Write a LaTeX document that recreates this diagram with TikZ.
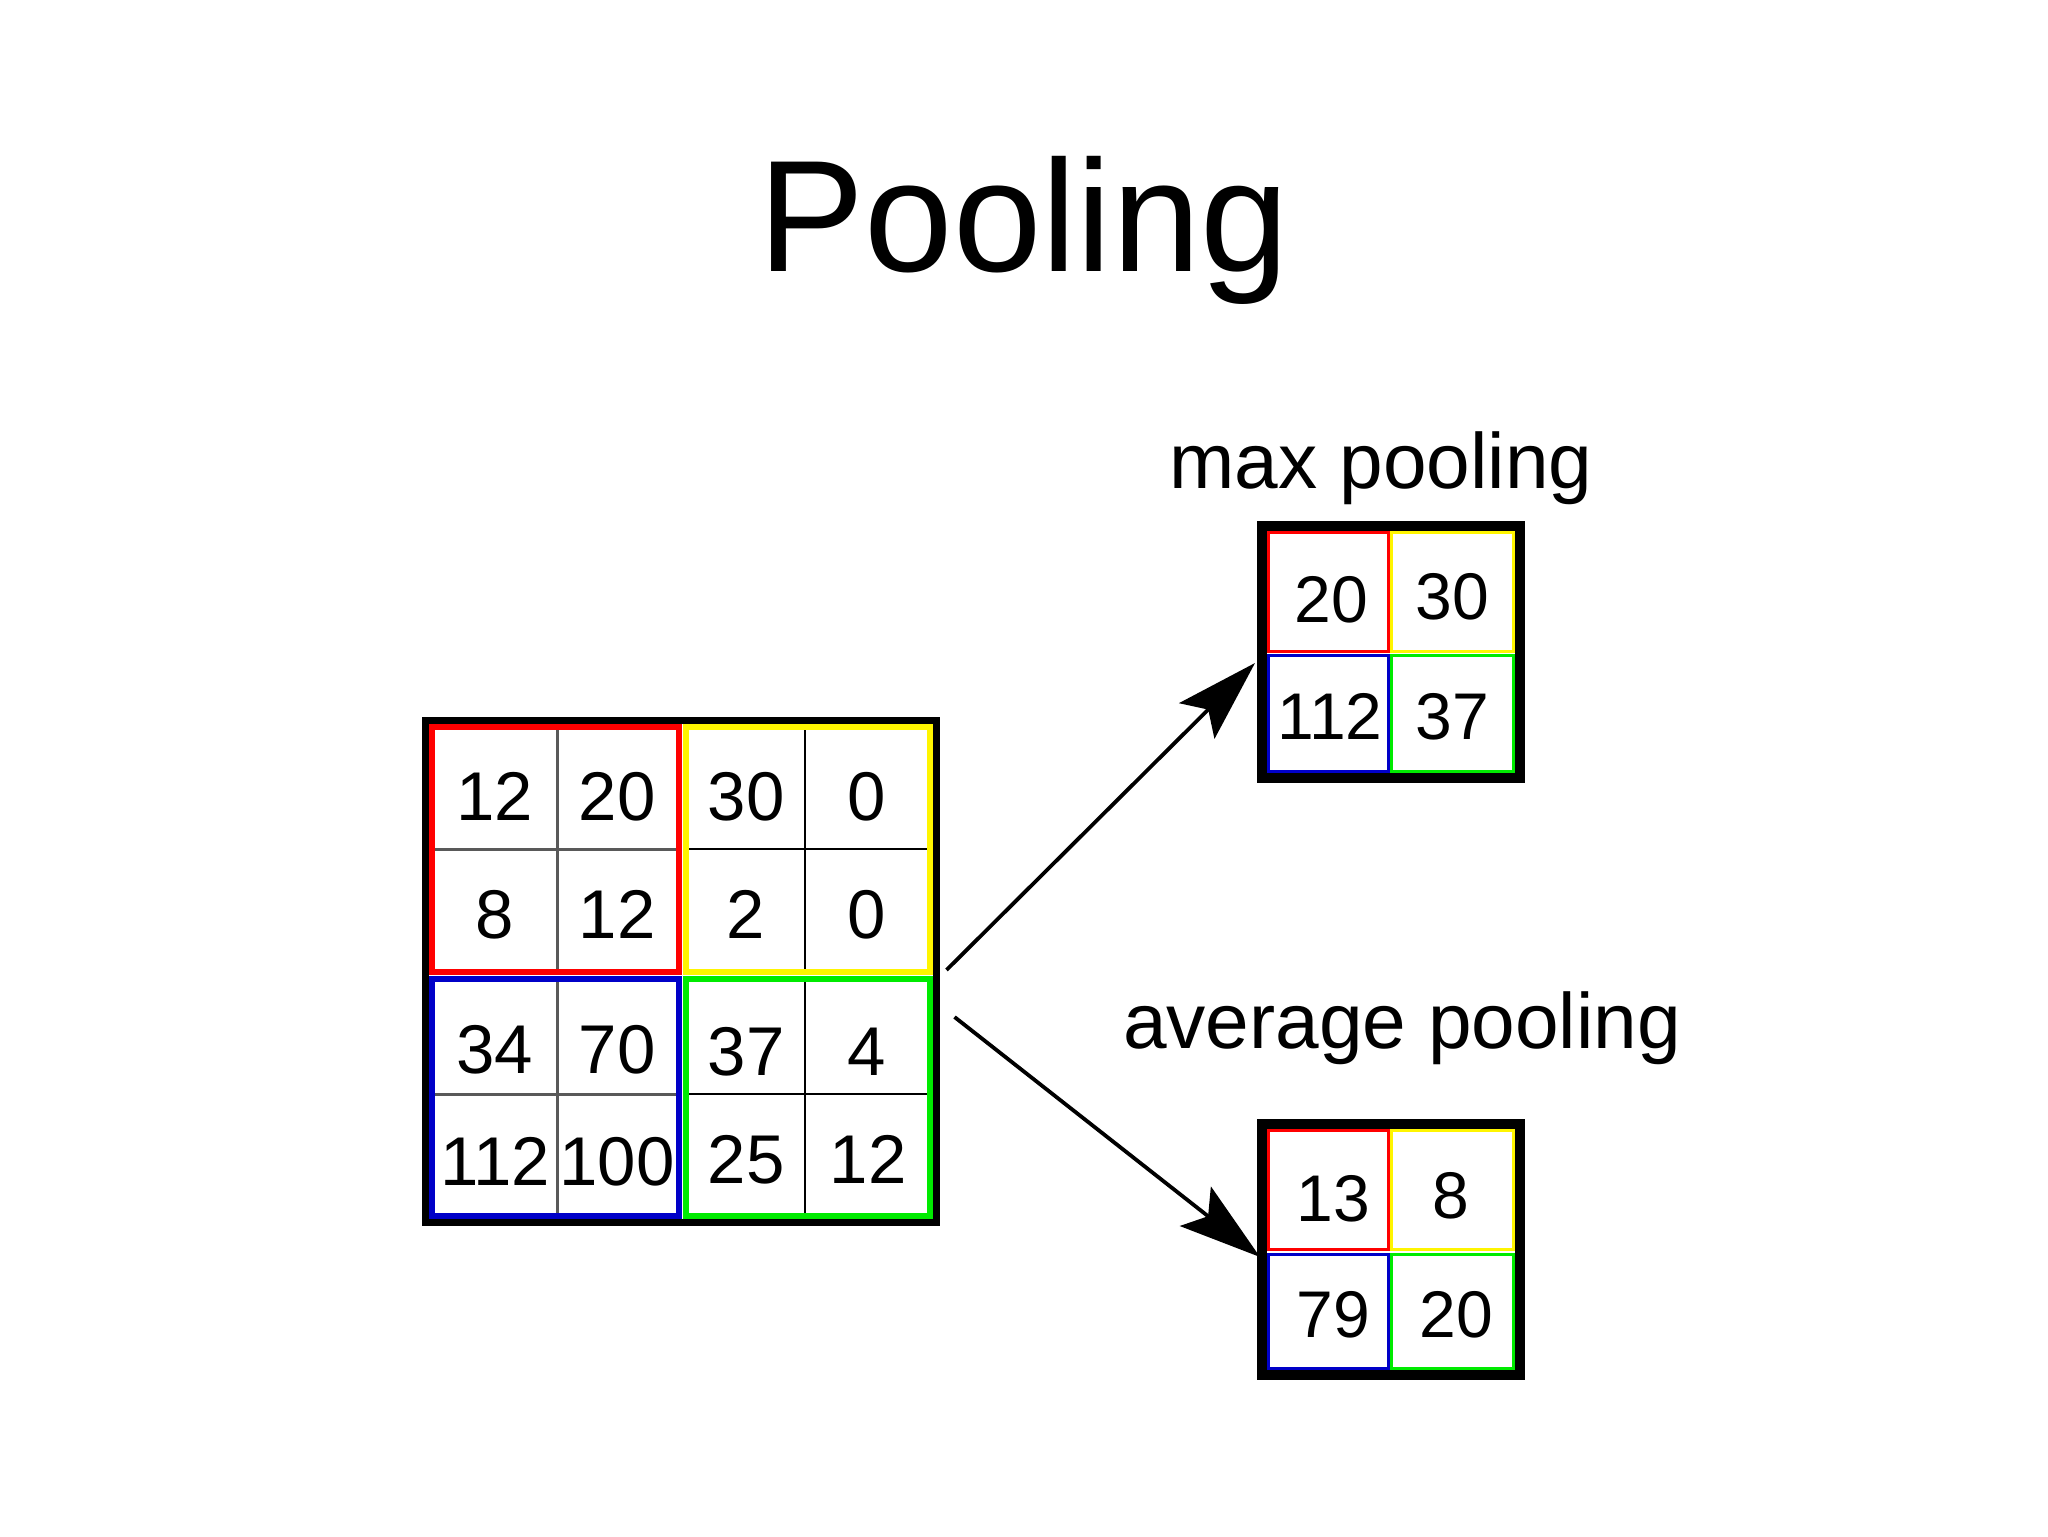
\documentclass[tikz,border=0pt]{standalone}
\usepackage{fontspec}
\setmainfont{Liberation Sans}
\usetikzlibrary{arrows.meta,calc}
\definecolor{qred}{RGB}{255,0,0}
\definecolor{qyel}{RGB}{255,245,0}
\definecolor{qgrn}{RGB}{0,235,0}
\definecolor{qblu}{RGB}{0,0,200}
\begin{document}
\begin{tikzpicture}[x=0.5pt,y=-0.5pt,
  bigd/.style={anchor=base, inner sep=0pt, font=\fontsize{34.5}{40}\selectfont},
  smalld/.style={anchor=base, inner sep=0pt, font=\fontsize{33}{38}\selectfont},
  lbl/.style={anchor=base, inner sep=0pt, font=\fontsize{39.2}{44}\selectfont},
  ttl/.style={anchor=base, inner sep=0pt, font=\fontsize{79.5}{90}\selectfont},
  thickq/.style={line width=3pt},
  thinq/.style={line width=1.6pt},
  gridg/.style={line width=1.5pt, draw=black!65},
  gridk/.style={line width=1.2pt, draw=black},
  arr/.style={line width=1.9pt, -{Stealth[length=41pt,width=25pt,inset=8pt]}}]
\fill[white] (0,0) rectangle (2048,1536);
\useasboundingbox (0,0) rectangle (2048,1536);

% title
\node[ttl] (title) at (1024,271) {Pooling};

% ---------- input 4x4 grid ----------
\draw[gridg] (557,729.5) -- (557,969);
\draw[gridg] (434.5,849) -- (676,849);
\draw[gridg] (557,982) -- (557,1212.5);
\draw[gridg] (434.5,1094) -- (676,1094);
\draw[gridk] (805,729.5) -- (805,969);
\draw[gridk] (689,849) -- (926.5,849);
\draw[gridk] (805,982) -- (805,1212.5);
\draw[gridk] (689,1094) -- (926.5,1094);
\draw[thickq, qred] (431.5,726.5) rectangle (679,972);
\draw[thickq, qyel] (686,726.5) rectangle (929.5,972);
\draw[thickq, qblu] (431.5,979) rectangle (679,1215.5);
\draw[thickq, qgrn] (686,979) rectangle (929.5,1215.5);
\node[draw=black, line width=3.5pt, inner sep=0pt, minimum width=255.5pt, minimum height=251pt] (in) at (680.5,971) {};

\node[bigd] (i11) at (495,820) {12};
\node[bigd] (i12) at (617,820) {20};
\node[bigd] (i13) at (746,820) {30};
\node[bigd] (i14) at (867,820) {0};
\node[bigd] (i21) at (495,938) {8};
\node[bigd] (i22) at (617,938) {12};
\node[bigd] (i23) at (746,938) {2};
\node[bigd] (i24) at (867,938) {0};
\node[bigd] (i31) at (495,1073) {34};
\node[bigd] (i32) at (617,1073) {70};
\node[bigd] (i33) at (746,1075) {37};
\node[bigd] (i34) at (867,1075) {4};
\node[bigd] (i41) at (495,1185) {112};
\node[bigd] (i42) at (617,1185) {100};
\node[bigd] (i43) at (746,1183) {25};
\node[bigd] (i44) at (868,1183) {12};

% ---------- max pooling ----------
\node[lbl] (maxl) at (1381,488) {max pooling};
\draw[thinq, qred] (1268.5,532.5) rectangle (1388.5,651.5);
\draw[thinq, qyel] (1391.5,532.5) rectangle (1513.5,651.5);
\draw[thinq, qblu] (1268.5,655.5) rectangle (1388.5,771.5);
\draw[thinq, qgrn] (1391.5,655.5) rectangle (1513.5,771.5);
\node[draw=black, line width=5pt, inner sep=0pt, minimum width=129pt, minimum height=126pt] (maxb) at (1391,652) {};
\node[smalld] (m11) at (1331,622) {20};
\node[smalld] (m12) at (1452,619) {30};
\node[smalld] (m21) at (1330,739) {112};
\node[smalld] (m22) at (1452,739) {37};

% ---------- average pooling ----------
\node[lbl] (avgl) at (1402,1048) {average pooling};
\draw[thinq, qred] (1268.5,1130.5) rectangle (1388.5,1249.5);
\draw[thinq, qyel] (1391.5,1130.5) rectangle (1513.5,1249.5);
\draw[thinq, qblu] (1268.5,1254.5) rectangle (1388.5,1368.5);
\draw[thinq, qgrn] (1391.5,1254.5) rectangle (1513.5,1368.5);
\node[draw=black, line width=5pt, inner sep=0pt, minimum width=129pt, minimum height=125.5pt] (avgb) at (1391,1249.5) {};
\node[smalld] (a11) at (1333,1221) {13};
\node[smalld] (a12) at (1451,1218) {8};
\node[smalld] (a21) at (1333,1337) {79};
\node[smalld] (a22) at (1456,1337) {20};

% ---------- arrows ----------
\coordinate (s1) at ($(in.east)+(7,-1)$);
\coordinate (s2) at ($(in.east)+(15,46)$);
\draw[arr] (s1) -- ($(maxb.west)+(-2,11)$);
\draw[arr] (s2) -- ($(avgb.west)+(3,7.5)$);
\end{tikzpicture}
\end{document}
